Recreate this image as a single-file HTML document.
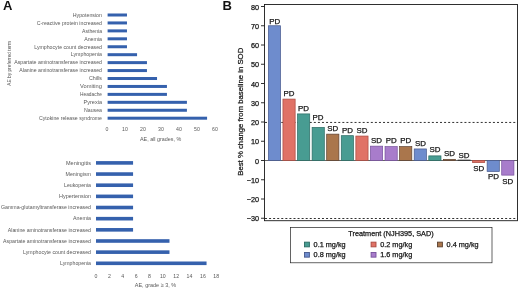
<!DOCTYPE html>
<html lang="en"><head><meta charset="utf-8"><title>Figure</title>
<style>html,body{margin:0;padding:0;background:#fff;}body{width:520px;height:290px;overflow:hidden;}svg{display:block;}text{font-family:"Liberation Sans",sans-serif;}.a{fill:#595959;font-size:5.2px;}.ga{filter:blur(0.3px);}.b{fill:#161616;font-size:7.3px;stroke:#161616;stroke-width:0.25px;}.bt{fill:#161616;font-size:7.3px;stroke:#161616;stroke-width:0.25px;}.p{font-weight:bold;font-size:13px;fill:#111;}</style></head><body>
<svg width="520" height="290" viewBox="0 0 520 290">
<rect width="520" height="290" fill="#fff"/>
<text class="p" x="3" y="9.6">A</text>
<text class="p" x="222.6" y="9.5">B</text>
<g class="ga">
<rect x="107.6" y="13.50" width="19.38" height="3.0" fill="#3561ad"/>
<text class="a" x="102" y="16.80" text-anchor="end" textLength="29.3" lengthAdjust="spacingAndGlyphs">Hypotension</text>
<rect x="107.6" y="21.44" width="19.38" height="3.0" fill="#3561ad"/>
<text class="a" x="102" y="24.74" text-anchor="end" textLength="65.3" lengthAdjust="spacingAndGlyphs">C-reactive protein increased</text>
<rect x="107.6" y="29.38" width="19.38" height="3.0" fill="#3561ad"/>
<text class="a" x="102" y="32.68" text-anchor="end" textLength="20" lengthAdjust="spacingAndGlyphs">Asthenia</text>
<rect x="107.6" y="37.32" width="19.38" height="3.0" fill="#3561ad"/>
<text class="a" x="102" y="40.62" text-anchor="end" textLength="17.8" lengthAdjust="spacingAndGlyphs">Anemia</text>
<rect x="107.6" y="45.25" width="19.38" height="3.0" fill="#3561ad"/>
<text class="a" x="102" y="48.55" text-anchor="end" textLength="67.8" lengthAdjust="spacingAndGlyphs">Lymphocyte count decreased</text>
<rect x="107.6" y="53.19" width="29.46" height="3.0" fill="#3561ad"/>
<text class="a" x="102" y="56.49" text-anchor="end" textLength="31.2" lengthAdjust="spacingAndGlyphs">Lymphopenia</text>
<rect x="107.6" y="61.13" width="39.36" height="3.0" fill="#3561ad"/>
<text class="a" x="102" y="64.43" text-anchor="end" textLength="87.7" lengthAdjust="spacingAndGlyphs">Aspartate aminotransferase increased</text>
<rect x="107.6" y="69.07" width="39.36" height="3.0" fill="#3561ad"/>
<text class="a" x="102" y="72.37" text-anchor="end" textLength="82.7" lengthAdjust="spacingAndGlyphs">Alanine aminotransferase increased</text>
<rect x="107.6" y="77.01" width="49.44" height="3.0" fill="#3561ad"/>
<text class="a" x="102" y="80.31" text-anchor="end" textLength="13" lengthAdjust="spacingAndGlyphs">Chills</text>
<rect x="107.6" y="84.95" width="59.34" height="3.0" fill="#3561ad"/>
<text class="a" x="102" y="88.25" text-anchor="end" textLength="22" lengthAdjust="spacingAndGlyphs">Vomiting</text>
<rect x="107.6" y="92.88" width="59.34" height="3.0" fill="#3561ad"/>
<text class="a" x="102" y="96.18" text-anchor="end" textLength="22" lengthAdjust="spacingAndGlyphs">Headache</text>
<rect x="107.6" y="100.82" width="79.32" height="3.0" fill="#3561ad"/>
<text class="a" x="102" y="104.12" text-anchor="end" textLength="18.5" lengthAdjust="spacingAndGlyphs">Pyrexia</text>
<rect x="107.6" y="108.76" width="79.32" height="3.0" fill="#3561ad"/>
<text class="a" x="102" y="112.06" text-anchor="end" textLength="18" lengthAdjust="spacingAndGlyphs">Nausea</text>
<rect x="107.6" y="116.70" width="99.48" height="3.0" fill="#3561ad"/>
<text class="a" x="102" y="120.00" text-anchor="end" textLength="63" lengthAdjust="spacingAndGlyphs">Cytokine release syndrome</text>
<text class="a" x="107.0" y="131.2" text-anchor="middle">0</text>
<text class="a" x="125.0" y="131.2" text-anchor="middle">10</text>
<text class="a" x="143.0" y="131.2" text-anchor="middle">20</text>
<text class="a" x="161.0" y="131.2" text-anchor="middle">30</text>
<text class="a" x="179.0" y="131.2" text-anchor="middle">40</text>
<text class="a" x="197.0" y="131.2" text-anchor="middle">50</text>
<text class="a" x="215.0" y="131.2" text-anchor="middle">60</text>
<text class="a" style="font-size:5.8px" x="160.6" y="140.5" text-anchor="middle" textLength="41.2" lengthAdjust="spacingAndGlyphs">AE, all grades, %</text>
<text class="a" style="font-size:5.8px" transform="translate(10.7,63.4) rotate(-90)" text-anchor="middle" textLength="44.8" lengthAdjust="spacingAndGlyphs">AE by preferred term</text>
<rect x="96.0" y="161.10" width="37.07" height="3.6" fill="#3561ad"/>
<text class="a" x="91" y="164.70" text-anchor="end" textLength="25" lengthAdjust="spacingAndGlyphs">Meningitis</text>
<rect x="96.0" y="172.26" width="37.07" height="3.6" fill="#3561ad"/>
<text class="a" x="91" y="175.86" text-anchor="end" textLength="25.5" lengthAdjust="spacingAndGlyphs">Meningism</text>
<rect x="96.0" y="183.41" width="37.07" height="3.6" fill="#3561ad"/>
<text class="a" x="91" y="187.01" text-anchor="end" textLength="27" lengthAdjust="spacingAndGlyphs">Leukopenia</text>
<rect x="96.0" y="194.57" width="37.07" height="3.6" fill="#3561ad"/>
<text class="a" x="91" y="198.17" text-anchor="end" textLength="32" lengthAdjust="spacingAndGlyphs">Hypertension</text>
<rect x="96.0" y="205.72" width="37.07" height="3.6" fill="#3561ad"/>
<text class="a" x="91" y="209.32" text-anchor="end" textLength="90" lengthAdjust="spacingAndGlyphs">Gamma-glutamyltransferase increased</text>
<rect x="96.0" y="216.88" width="37.07" height="3.6" fill="#3561ad"/>
<text class="a" x="91" y="220.48" text-anchor="end" textLength="18" lengthAdjust="spacingAndGlyphs">Anemia</text>
<rect x="96.0" y="228.03" width="37.07" height="3.6" fill="#3561ad"/>
<text class="a" x="91" y="231.63" text-anchor="end" textLength="83.2" lengthAdjust="spacingAndGlyphs">Alanine aminotransferase increased</text>
<rect x="96.0" y="239.19" width="73.48" height="3.6" fill="#3561ad"/>
<text class="a" x="91" y="242.79" text-anchor="end" textLength="87.9" lengthAdjust="spacingAndGlyphs">Aspartate aminotransferase increased</text>
<rect x="96.0" y="250.34" width="73.48" height="3.6" fill="#3561ad"/>
<text class="a" x="91" y="253.94" text-anchor="end" textLength="68" lengthAdjust="spacingAndGlyphs">Lymphocyte count decreased</text>
<rect x="96.0" y="261.50" width="110.55" height="3.6" fill="#3561ad"/>
<text class="a" x="91" y="265.10" text-anchor="end" textLength="31" lengthAdjust="spacingAndGlyphs">Lymphopenia</text>
<text class="a" x="96.0" y="277.9" text-anchor="middle">0</text>
<text class="a" x="109.4" y="277.9" text-anchor="middle">2</text>
<text class="a" x="122.7" y="277.9" text-anchor="middle">4</text>
<text class="a" x="136.1" y="277.9" text-anchor="middle">6</text>
<text class="a" x="149.4" y="277.9" text-anchor="middle">8</text>
<text class="a" x="162.8" y="277.9" text-anchor="middle">10</text>
<text class="a" x="176.2" y="277.9" text-anchor="middle">12</text>
<text class="a" x="189.5" y="277.9" text-anchor="middle">14</text>
<text class="a" x="202.9" y="277.9" text-anchor="middle">16</text>
<text class="a" x="216.2" y="277.9" text-anchor="middle">18</text>
<text class="a" style="font-size:5.8px" x="155.5" y="287" text-anchor="middle" textLength="41.5" lengthAdjust="spacingAndGlyphs">AE, grade ≥ 3, %</text>
</g>
<rect x="264.5" y="4.5" width="253.00" height="216.20" fill="none" stroke="#1a1a1a" stroke-width="0.9"/>
<line x1="261.0" x2="264.5" y1="218.25" y2="218.25" stroke="#1a1a1a" stroke-width="0.9"/>
<text class="bt" x="259.1" y="221.45" text-anchor="end">−30</text>
<line x1="261.0" x2="264.5" y1="199.00" y2="199.00" stroke="#1a1a1a" stroke-width="0.9"/>
<text class="bt" x="259.1" y="202.20" text-anchor="end">−20</text>
<line x1="261.0" x2="264.5" y1="179.75" y2="179.75" stroke="#1a1a1a" stroke-width="0.9"/>
<text class="bt" x="259.1" y="182.95" text-anchor="end">−10</text>
<line x1="261.0" x2="264.5" y1="160.50" y2="160.50" stroke="#1a1a1a" stroke-width="0.9"/>
<text class="bt" x="259.1" y="163.70" text-anchor="end">0</text>
<line x1="261.0" x2="264.5" y1="141.25" y2="141.25" stroke="#1a1a1a" stroke-width="0.9"/>
<text class="bt" x="259.1" y="144.45" text-anchor="end">10</text>
<line x1="261.0" x2="264.5" y1="122.00" y2="122.00" stroke="#1a1a1a" stroke-width="0.9"/>
<text class="bt" x="259.1" y="125.20" text-anchor="end">20</text>
<line x1="261.0" x2="264.5" y1="102.75" y2="102.75" stroke="#1a1a1a" stroke-width="0.9"/>
<text class="bt" x="259.1" y="105.95" text-anchor="end">30</text>
<line x1="261.0" x2="264.5" y1="83.50" y2="83.50" stroke="#1a1a1a" stroke-width="0.9"/>
<text class="bt" x="259.1" y="86.70" text-anchor="end">40</text>
<line x1="261.0" x2="264.5" y1="64.25" y2="64.25" stroke="#1a1a1a" stroke-width="0.9"/>
<text class="bt" x="259.1" y="67.45" text-anchor="end">50</text>
<line x1="261.0" x2="264.5" y1="45.00" y2="45.00" stroke="#1a1a1a" stroke-width="0.9"/>
<text class="bt" x="259.1" y="48.20" text-anchor="end">60</text>
<line x1="261.0" x2="264.5" y1="25.75" y2="25.75" stroke="#1a1a1a" stroke-width="0.9"/>
<text class="bt" x="259.1" y="28.95" text-anchor="end">70</text>
<line x1="261.0" x2="264.5" y1="6.50" y2="6.50" stroke="#1a1a1a" stroke-width="0.9"/>
<text class="bt" x="259.1" y="9.70" text-anchor="end">80</text>
<text class="b" style="font-size:7.75px" transform="translate(242.8,111.75) rotate(-90)" text-anchor="middle" textLength="128" lengthAdjust="spacingAndGlyphs">Best % change from baseline in SOD</text>
<line x1="264.5" x2="517.5" y1="160.50" y2="160.50" stroke="#222" stroke-width="0.7"/>
<line x1="265.0" x2="517.5" y1="122.45" y2="122.45" stroke="#1a1a1a" stroke-width="0.9" stroke-dasharray="2 2.07"/>
<line x1="265.0" x2="517.5" y1="218.5" y2="218.5" stroke="#1a1a1a" stroke-width="0.9" stroke-dasharray="2 2.07"/>
<rect x="268.35" y="25.75" width="12.2" height="134.75" fill="#6e8ccd" stroke="#46588c" stroke-width="0.7"/>
<text class="b" style="font-size:7.9px" x="274.75" y="23.90" text-anchor="middle">PD</text>
<rect x="282.94" y="99.09" width="12.2" height="61.41" fill="#e07266" stroke="#a8483e" stroke-width="0.7"/>
<text class="b" style="font-size:7.9px" x="289.00" y="96.10" text-anchor="middle">PD</text>
<rect x="297.52" y="113.91" width="12.2" height="46.59" fill="#489c92" stroke="#2a6a62" stroke-width="0.7"/>
<text class="b" style="font-size:7.9px" x="303.50" y="110.50" text-anchor="middle">PD</text>
<rect x="312.11" y="127.39" width="12.2" height="33.11" fill="#489c92" stroke="#2a6a62" stroke-width="0.7"/>
<text class="b" style="font-size:7.9px" x="318.10" y="120.10" text-anchor="middle">PD</text>
<rect x="326.69" y="134.13" width="12.2" height="26.37" fill="#aa764c" stroke="#5a4030" stroke-width="0.7"/>
<text class="b" style="font-size:7.9px" x="332.80" y="130.70" text-anchor="middle">SD</text>
<rect x="341.28" y="135.67" width="12.2" height="24.83" fill="#489c92" stroke="#2a6a62" stroke-width="0.7"/>
<text class="b" style="font-size:7.9px" x="347.40" y="132.80" text-anchor="middle">PD</text>
<rect x="355.86" y="136.05" width="12.2" height="24.45" fill="#e07266" stroke="#a8483e" stroke-width="0.7"/>
<text class="b" style="font-size:7.9px" x="361.90" y="132.80" text-anchor="middle">SD</text>
<rect x="370.45" y="146.16" width="12.2" height="14.34" fill="#a87ccb" stroke="#75509c" stroke-width="0.7"/>
<text class="b" style="font-size:7.9px" x="376.60" y="143.20" text-anchor="middle">SD</text>
<rect x="385.03" y="146.64" width="12.2" height="13.86" fill="#a87ccb" stroke="#75509c" stroke-width="0.7"/>
<text class="b" style="font-size:7.9px" x="391.30" y="143.20" text-anchor="middle">PD</text>
<rect x="399.62" y="146.64" width="12.2" height="13.86" fill="#aa764c" stroke="#5a4030" stroke-width="0.7"/>
<text class="b" style="font-size:7.9px" x="405.70" y="143.20" text-anchor="middle">PD</text>
<rect x="414.20" y="148.95" width="12.2" height="11.55" fill="#6e8ccd" stroke="#46588c" stroke-width="0.7"/>
<text class="b" style="font-size:7.9px" x="420.40" y="145.60" text-anchor="middle">SD</text>
<rect x="428.79" y="155.88" width="12.2" height="4.62" fill="#489c92" stroke="#2a6a62" stroke-width="0.7"/>
<text class="b" style="font-size:7.9px" x="434.90" y="151.80" text-anchor="middle">SD</text>
<rect x="443.37" y="159.34" width="12.2" height="1.16" fill="#aa764c" stroke="#5a4030" stroke-width="0.7"/>
<text class="b" style="font-size:7.9px" x="449.60" y="155.80" text-anchor="middle">SD</text>
<rect x="457.96" y="160.02" width="12.2" height="0.48" fill="#333" stroke="#333" stroke-width="0.7"/>
<text class="b" style="font-size:7.9px" x="464.00" y="157.80" text-anchor="middle">SD</text>
<rect x="472.54" y="160.50" width="12.2" height="2.12" fill="#e07266" stroke="#a8483e" stroke-width="0.7"/>
<text class="b" style="font-size:7.9px" x="478.80" y="170.60" text-anchor="middle">SD</text>
<rect x="487.12" y="160.50" width="12.2" height="10.97" fill="#6e8ccd" stroke="#46588c" stroke-width="0.7"/>
<text class="b" style="font-size:7.9px" x="493.50" y="178.80" text-anchor="middle">PD</text>
<rect x="501.71" y="160.50" width="12.2" height="14.63" fill="#a87ccb" stroke="#75509c" stroke-width="0.7"/>
<text class="b" style="font-size:7.9px" x="507.80" y="183.50" text-anchor="middle">SD</text>
<rect x="290.4" y="227.6" width="201.6" height="35.2" fill="#fff" stroke="#222" stroke-width="0.7"/>
<text class="b" x="391" y="235.5" text-anchor="middle">Treatment (NJH395, SAD)</text>
<rect x="304.5" y="242.15" width="4.9" height="4.7" fill="#489c92" stroke="#2a6a62" stroke-width="0.9"/>
<text class="b" x="313.6" y="246.80">0.1 mg/kg</text>
<rect x="371.1" y="242.15" width="4.9" height="4.7" fill="#e07266" stroke="#a8483e" stroke-width="0.9"/>
<text class="b" x="380.20000000000005" y="246.80">0.2 mg/kg</text>
<rect x="437.5" y="242.15" width="4.9" height="4.7" fill="#aa764c" stroke="#5a4030" stroke-width="0.9"/>
<text class="b" x="446.6" y="246.80">0.4 mg/kg</text>
<rect x="304.5" y="252.45" width="4.9" height="4.7" fill="#6e8ccd" stroke="#46588c" stroke-width="0.9"/>
<text class="b" x="313.6" y="257.10">0.8 mg/kg</text>
<rect x="371.1" y="252.45" width="4.9" height="4.7" fill="#a87ccb" stroke="#75509c" stroke-width="0.9"/>
<text class="b" x="380.20000000000005" y="257.10">1.6 mg/kg</text>
</svg></body></html>
